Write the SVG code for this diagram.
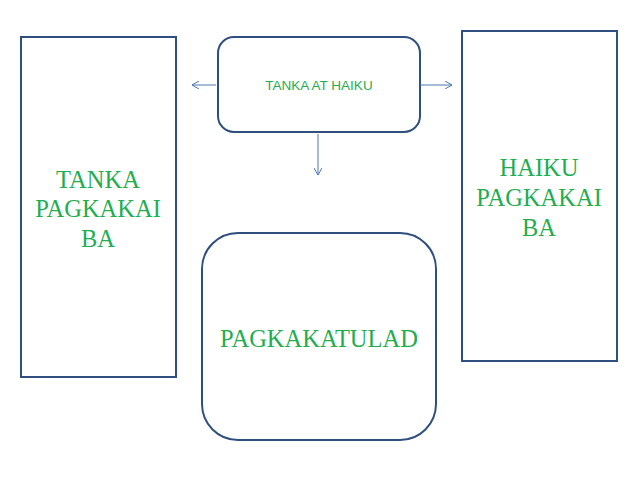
<svg xmlns="http://www.w3.org/2000/svg" width="638" height="478" viewBox="0 0 638 478">
<style>
.b{fill:#fff;stroke:#2f4f7f;stroke-width:2}
.s{font-family:"Liberation Serif",serif;font-size:24.5px;fill:#1fae4f;text-anchor:middle}
.c{stroke:#4a76b0;stroke-width:1;fill:none;marker-end:url(#a)}
</style>
<defs><marker id="a" markerWidth="8" markerHeight="8" refX="7" refY="4" orient="auto" markerUnits="userSpaceOnUse"><path d="M0,0L7,4L0,8" fill="none" stroke="#4a76b0"/></marker></defs>
<rect width="638" height="478" fill="#fff"/>
<g id="left"><rect class="b" x="21" y="37" width="155" height="340"/><text class="s" x="98" y="188">TANKA</text><text class="s" x="98" y="217">PAGKAKAI</text><text class="s" x="98" y="247">BA</text></g>
<g id="right"><rect class="b" x="462" y="31" width="155" height="330"/><text class="s" x="539" y="176">HAIKU</text><text class="s" x="539" y="206">PAGKAKAI</text><text class="s" x="539" y="236">BA</text></g>
<g id="top"><rect class="b" x="218" y="37" width="202" height="95" rx="16"/><text x="319" y="90" font-family="Liberation Sans,sans-serif" font-size="13.5" fill="#1fae4f" text-anchor="middle">TANKA AT HAIKU</text></g>
<g id="bottom"><rect class="b" x="202" y="233" width="234" height="207" rx="36"/><text class="s" x="319" y="347" font-size="25px">PAGKAKATULAD</text></g>
<g id="connectors"><path class="c" d="M216,85H192"/><path class="c" d="M420,85H452"/><path class="c" d="M318,134V175"/></g>
</svg>
